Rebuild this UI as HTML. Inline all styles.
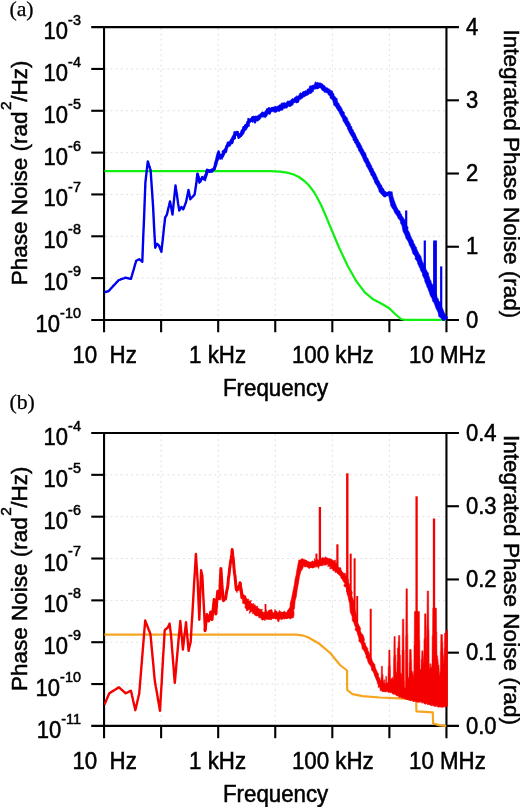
<!DOCTYPE html>
<html lang="en"><head><meta charset="utf-8"><title>Phase noise</title>
<style>html,body{margin:0;padding:0;background:#fff}body{width:520px;height:807px;overflow:hidden}svg{display:block}text{stroke:#000;stroke-width:.5px}</style>
</head><body>
<svg width="520" height="807" viewBox="0 0 520 807" font-family="'Liberation Sans', sans-serif" fill="#000">
<rect width="520" height="807" fill="#fff"/>
<g stroke="#e2e2e2" stroke-width="1" stroke-dasharray="2.2 3" fill="none"><line x1="161.12" y1="28.10" x2="161.12" y2="318.95"/><line x1="218.18" y1="28.10" x2="218.18" y2="318.95"/><line x1="275.25" y1="28.10" x2="275.25" y2="318.95"/><line x1="332.32" y1="28.10" x2="332.32" y2="318.95"/><line x1="389.38" y1="28.10" x2="389.38" y2="318.95"/><line x1="105.05" y1="68.94" x2="445.45" y2="68.94"/><line x1="105.05" y1="110.77" x2="445.45" y2="110.77"/><line x1="105.05" y1="152.61" x2="445.45" y2="152.61"/><line x1="105.05" y1="194.44" x2="445.45" y2="194.44"/><line x1="105.05" y1="236.28" x2="445.45" y2="236.28"/><line x1="105.05" y1="278.11" x2="445.45" y2="278.11"/></g>
<g stroke="#000" stroke-width="2.1" fill="none"><path d="M91.25 27.10 H458.95 M91.25 319.95 H458.95 M104.05 27.10 V332.25 M446.45 27.10 V332.25"/><line x1="91.25" y1="68.94" x2="104.05" y2="68.94"/><line x1="91.25" y1="110.77" x2="104.05" y2="110.77"/><line x1="91.25" y1="152.61" x2="104.05" y2="152.61"/><line x1="91.25" y1="194.44" x2="104.05" y2="194.44"/><line x1="91.25" y1="236.28" x2="104.05" y2="236.28"/><line x1="91.25" y1="278.11" x2="104.05" y2="278.11"/><line x1="161.12" y1="319.95" x2="161.12" y2="332.25"/><line x1="218.18" y1="319.95" x2="218.18" y2="332.25"/><line x1="275.25" y1="319.95" x2="275.25" y2="332.25"/><line x1="332.32" y1="319.95" x2="332.32" y2="332.25"/><line x1="389.38" y1="319.95" x2="389.38" y2="332.25"/><line x1="446.45" y1="100.31" x2="458.95" y2="100.31"/><line x1="446.45" y1="173.52" x2="458.95" y2="173.52"/><line x1="446.45" y1="246.74" x2="458.95" y2="246.74"/></g>
<clipPath id="ca"><rect x="104.0" y="27.1" width="343.9" height="294.0"/></clipPath>
<g clip-path="url(#ca)" fill="none" stroke-linejoin="round">
<path d="M104.4 171.2L270.0 171.2L280.0 171.6L287.0 172.6L293.0 174.2L299.0 177.0L305.0 181.5L308.5 185.0L312.0 189.3L314.3 192.5L317.7 198.5L321.5 206.0L325.0 214.0L330.2 226.5L338.8 247.0L347.5 265.5L356.2 281.0L364.8 292.4L373.5 299.6L382.1 304.0L389.3 308.3L395.1 314.0L400.9 319.0L404.0 319.8L446.0 319.8" stroke="#10f010" stroke-width="2.2"/>
<path d="M104.4 292.2L104.9 292.1L105.4 291.9L105.9 291.8L106.5 291.7L107.0 291.6L107.5 291.4L108.0 291.3L108.5 291.2L109.0 290.6L109.5 290.1L110.0 289.6L110.5 289.0L111.0 288.4L111.5 287.9L112.0 287.3L112.5 286.8L113.0 286.2L113.5 285.7L114.1 285.1L114.6 284.6L115.1 284.1L115.6 283.5L116.1 282.9L116.6 282.4L117.1 281.8L117.6 281.3L118.1 280.8L118.6 280.2L119.1 280.0L119.6 279.8L120.2 279.6L120.7 279.4L121.2 279.2L121.7 279.0L122.3 278.9L122.8 278.7L123.3 278.5L123.8 278.3L124.4 278.1L124.9 277.9L125.4 277.7L125.9 277.8L126.4 277.9L126.9 278.0L127.4 278.1L127.9 278.2L128.4 278.4L128.9 278.5L129.4 278.6L129.9 278.7L130.4 278.8L130.9 278.9L131.4 277.1L132.0 275.3L132.5 273.5L133.0 271.7L133.6 269.9L134.1 268.0L134.6 266.2L135.1 264.4L135.7 262.6L136.2 260.8L136.7 260.5L137.2 260.3L137.7 260.0L138.2 259.7L138.7 259.5L139.2 259.2L139.7 259.6L140.2 260.0L140.8 260.4L141.3 260.9L141.8 261.3L142.3 261.7L142.8 248.5L143.3 235.2L143.9 222.0L144.4 208.8L144.9 195.5L145.4 182.3L146.0 177.1L146.6 171.9L147.2 166.6L147.8 161.4L148.4 163.1L148.9 164.8L149.5 166.6L150.0 168.3L150.6 170.0L151.1 177.4L151.6 184.8L152.1 192.1L152.6 199.5L153.1 206.9L153.6 217.1L154.1 227.4L154.7 237.6L155.2 247.8L155.8 246.5L156.5 245.1L157.1 243.8L157.7 244.3L158.3 244.9L158.9 245.4L159.4 246.7L159.9 248.0L160.4 249.2L160.9 250.5L161.4 251.8L161.9 246.9L162.5 242.1L163.0 237.2L163.5 232.3L164.0 227.4L164.6 222.6L165.1 217.7L165.7 216.7L166.3 215.6L166.9 214.6L167.4 212.4L167.9 210.2L168.4 208.0L169.0 205.8L169.5 203.6L170.0 201.4L170.5 204.0L171.0 206.7L171.5 209.3L172.0 212.0L172.5 214.6L173.0 209.7L173.5 204.9L174.0 200.0L174.5 195.1L175.0 190.3L175.5 185.4L176.0 189.0L176.6 192.6L177.1 196.2L177.6 199.8L178.1 203.4L178.7 207.0L179.2 210.6L179.8 209.7L180.3 208.8L180.8 207.8L181.4 206.9L182.0 207.7L182.6 208.6L183.2 209.4L183.8 208.0L184.3 206.6L184.9 205.1L185.4 203.7L186.0 202.3L186.5 199.8L187.0 197.4L187.5 194.9L188.0 192.5L188.5 190.0L189.1 193.1L189.7 196.1L190.3 199.2L190.8 198.6L191.4 198.0L191.9 197.5L192.4 196.9L193.0 196.3L193.5 195.8L194.1 195.2L194.6 194.6L195.2 190.6L195.8 186.6L196.3 183.3L196.9 178.5L197.5 173.7" stroke="#0000f0" stroke-width="2.4"/>
<path d="M196.9 178.5L197.5 173.7L198.0 176.7L198.6 178.4L199.1 179.8L199.7 182.0L200.2 181.9L200.7 180.6L201.2 179.1L201.8 178.7L202.3 177.1L202.9 177.8L203.4 179.0L203.9 179.4L204.5 179.6L205.0 178.7L205.5 176.2L206.0 174.6L206.5 173.7L207.0 169.8L207.5 171.0L208.1 171.0L208.6 170.2L209.1 170.6L209.6 171.9L210.1 170.4L210.7 171.3L211.2 171.6L211.7 170.1L212.2 171.3L212.8 170.1L213.3 169.5L213.8 169.7L214.6 167.0L214.6 169.0L215.6 163.5L216.5 161.1L217.6 157.3L218.6 151.5L219.6 155.5L220.6 158.5L221.5 154.8L222.4 157.1L223.3 155.2L224.1 151.8L224.9 150.6L225.7 149.8L226.5 146.9L227.3 145.1L228.1 142.7L228.9 145.0L229.7 143.8L230.5 143.4L231.3 140.0L232.1 143.0L232.9 139.0L233.8 136.4L234.6 138.3L235.4 133.4L236.2 132.0L237.0 134.3L237.8 132.1L238.6 137.8L239.4 136.3L240.2 134.4L241.0 135.8L241.9 130.4L242.7 132.3L243.5 127.1L244.4 127.7L245.3 125.3L246.2 127.8L247.0 126.7L247.9 122.0L248.8 122.3L249.7 120.5L250.6 121.3L251.5 119.1L252.4 117.4L253.3 117.0L254.2 120.0L255.0 122.3L255.8 118.8L256.7 117.1L257.5 120.3L258.3 117.3L259.2 116.7L260.0 116.5L260.9 115.6L261.8 114.9L262.6 112.8L263.5 115.4L264.5 113.9L265.5 115.3L266.5 112.4L267.5 109.5L268.6 111.5L269.6 113.5L270.6 110.1L271.5 109.0L272.5 108.2L273.3 108.2L274.1 109.2L275.0 107.7L275.8 111.5L276.6 108.5L277.5 108.7L278.3 110.4L279.2 110.1L280.0 107.2L280.8 107.7L281.7 108.0L282.5 106.4L283.3 103.7L284.2 107.1L285.0 107.1L285.8 106.0L286.7 103.6L287.5 104.4L288.3 103.4L289.2 103.4L290.0 105.4L290.8 105.2L291.7 103.3L292.5 102.6L293.3 102.2L294.2 100.6L295.0 99.9L295.8 98.5L296.7 98.8L297.5 101.8L298.3 99.2L299.2 96.8L300.0 96.1L300.8 95.0L301.7 96.3L302.5 95.7L303.3 92.5L304.2 94.8L305.0 92.7L305.8 94.9L306.7 92.5L307.5 94.1L308.3 90.4L309.2 90.0L310.0 90.2L310.8 90.8L311.7 89.6L312.5 86.6L313.3 88.0L314.2 87.3L315.0 86.2L316.0 85.4L317.0 88.1L318.0 84.8L318.9 84.5L319.7 86.8L320.6 86.5L321.4 86.6L322.3 88.0L323.2 88.3L324.1 88.7L325.0 90.1L325.8 89.9L326.7 89.5L327.6 90.4L328.5 90.9L329.4 93.0L330.2 92.8" stroke="#0000f0" stroke-width="2.4"/>
<path d="M330.2 92.8L331.1 93.2L331.9 96.7L332.8 96.4L333.6 97.1L334.5 100.8L335.3 101.0L336.2 103.5L337.0 104.0L337.9 105.0L338.7 106.5L339.5 108.7L340.4 110.5L341.2 111.6L342.1 113.6L342.9 114.2L343.7 116.9L344.6 117.2L345.4 119.9L346.2 122.1L347.1 123.9L347.9 126.0L348.7 125.3L349.6 128.5L350.4 130.4L351.3 131.8L352.1 132.1L352.9 134.6L353.8 137.2L354.6 136.5L355.4 139.5L356.3 141.5L357.1 141.9L357.9 144.4L358.8 144.9L359.6 146.7L360.5 148.3L361.3 150.7L362.1 152.1L363.0 154.4L363.8 154.7L364.6 157.0L365.5 159.4L366.3 160.8L367.1 161.2L368.0 164.2L368.8 165.1L369.7 167.4L370.5 169.0L371.3 171.3L372.2 172.2L373.0 172.5L373.9 174.6L374.7 177.7L375.6 178.8L376.5 181.4L377.3 182.5L378.2 183.5L379.1 186.5L379.9 186.9L380.8 187.8L381.7 191.9L382.6 190.3L383.6 193.4L384.5 194.8L385.4 195.5L386.3 193.7L387.2 195.1L388.2 192.8L389.1 192.4L390.0 192.5L391.0 197.3L392.0 200.9L393.0 205.2L393.9 205.9L394.9 207.8L395.8 208.7L396.8 210.9L397.7 213.2L398.6 214.1L399.5 216.2L400.5 217.0L401.4 218.5L402.3 220.5L403.1 222.6L403.9 225.3L404.7 227.3L405.6 230.6L406.4 231.4L407.2 233.6L408.0 235.3L408.9 237.9L409.7 240.2L410.6 241.0L411.5 243.4L412.4 245.7L413.2 247.0L414.1 248.6L415.0 251.4L415.8 252.7L416.7 254.8L417.6 257.3L418.4 259.3L419.3 260.3L420.2 262.2L421.0 264.7L421.9 266.5L422.8 267.3L423.7 271.4L424.5 272.6L425.4 275.1L426.3 276.1L427.1 279.8L428.0 280.9L428.8 283.4L429.7 284.8L430.6 287.8L431.4 289.9L432.3 292.2L433.1 294.8L434.0 296.7L434.9 299.2L435.7 300.3L436.6 301.9L437.5 304.4L438.4 306.7L439.2 309.0L440.1 310.7L441.0 311.1L441.8 314.3L442.7 316.9L443.5 316.9L444.4 317.4L445.2 318.8L446.0 319.2" stroke="#0000f0" stroke-width="2.4"/>
<path d="M198.5 173.7L199.1 175.8L200.3 178.3L200.8 182.1L201.9 180.0L202.0 178.1L201.9 176.0L202.1 177.4L201.5 177.9L203.4 179.8L203.9 176.1L205.4 173.4L206.0 170.0L206.5 169.9L207.7 170.3L208.1 169.3L209.8 169.9L210.2 169.5L211.1 169.2L211.6 168.7L212.3 168.6L213.7 167.1L214.4 163.2L215.4 159.8L216.2 156.2L217.3 152.3L218.5 155.3L219.6 157.6L220.5 155.9L221.4 154.5L222.3 153.0L221.9 150.9L223.4 150.2L224.5 148.7L225.4 147.2L225.9 145.3L226.9 144.9L227.3 144.1L227.0 142.3L229.2 141.9L229.7 140.8L231.2 139.3L231.6 137.4L232.6 135.8L233.5 134.0L233.9 131.3L234.7 131.5L236.4 133.9L237.3 134.1L238.2 134.5L239.0 135.3L239.1 133.8L239.8 133.3L240.6 132.5L241.1 131.1L242.5 130.4L242.6 128.8L243.9 127.9L244.5 126.5L245.0 125.0L246.1 123.8L246.5 122.1L247.6 120.4L247.7 118.3L248.8 118.3L249.4 118.8L250.3 118.5L251.9 117.9L252.9 116.5L253.5 116.3L254.0 116.2L254.9 116.6L255.5 115.8L256.6 116.5L257.3 115.9L258.1 115.2L259.1 114.8L259.8 113.9L260.5 113.6L261.0 112.9L261.6 112.5L262.1 112.7L263.1 113.4L263.5 112.2L264.6 112.3L265.1 110.8L266.3 110.3L266.3 108.8L267.7 109.2L268.0 107.8L268.9 107.2L270.3 108.1L271.2 107.8L271.9 107.0L272.9 107.6L273.7 106.8L274.7 107.1L275.4 105.9L276.3 107.1L276.6 106.7L276.9 106.1L278.0 106.3L278.7 105.3L279.5 104.8L280.6 104.8L281.0 103.4L281.6 103.1L282.4 103.2L283.5 103.7L284.0 102.9L284.7 102.4L285.6 103.2L286.2 102.8L287.0 102.6L287.1 101.2L287.7 100.9L288.8 101.1L289.8 100.8L290.6 100.5L291.2 99.5L291.9 99.1L292.3 98.5L292.8 98.6L294.0 99.2L294.4 97.7L295.1 96.9L296.2 97.2L296.3 95.8L297.4 96.2L298.0 95.9L298.9 95.7L299.2 94.4L299.8 93.4L300.2 92.7L301.7 93.3L302.6 92.7L303.4 92.0L303.9 91.5L304.7 91.3L305.2 90.7L305.9 90.6L306.9 90.9L307.1 89.7L307.7 88.8L308.6 88.7L309.3 88.4L309.3 86.3L310.5 85.7L311.6 85.9L311.9 85.4L312.9 85.3L314.1 84.9L314.8 83.2L315.4 81.7L316.7 82.7L317.6 82.3L318.8 83.0L320.1 82.8L321.1 83.2L321.9 83.8L322.9 84.1L323.3 85.2L324.7 85.6L325.2 86.8L325.9 87.3L326.8 87.8L328.0 88.1L328.2 89.1L329.3 88.8L329.8 89.4L330.9 90.5L332.5 91.0L332.8 92.7L333.9 93.8L334.1 95.6L335.0 96.7L336.2 97.7L337.2 98.7L337.3 100.7L337.8 102.5L339.1 103.5L339.4 105.0L340.3 106.0L341.0 107.1L341.8 108.2L342.3 109.7L342.9 111.1L344.3 112.2L344.3 114.1L344.9 115.4L346.1 116.4L347.0 117.5L347.7 118.7L347.9 120.3L348.9 121.5L349.6 122.9L350.4 124.2L350.6 125.7L351.9 126.8L352.0 128.5L353.1 129.8L353.5 131.3L354.5 132.5L355.2 133.8L355.7 135.2L356.4 136.6L357.0 138.2L357.9 139.3L358.4 140.6L359.1 142.0L360.1 143.3L360.8 144.8L361.7 146.2L362.1 147.8L362.9 149.0L363.6 150.1L364.2 151.6L365.3 152.8L366.0 154.3L366.3 156.0L366.9 157.5L368.1 158.6L368.4 160.1L369.3 161.6L370.1 163.0L370.7 164.5L371.7 165.7L371.9 167.3L373.0 168.5L373.4 170.1L374.3 171.5L375.1 172.9L375.8 174.2L376.3 175.5L377.0 176.9L377.7 178.5L378.2 180.1L379.2 181.2L379.7 182.5L380.4 184.0L381.6 185.1L382.0 186.6L382.5 188.1L383.8 188.8L383.9 190.1L384.7 190.7L385.3 191.5L386.1 191.7L386.5 192.5L386.7 192.5L388.0 192.3L389.3 191.9L390.0 192.3L390.9 192.2L392.1 191.6L392.6 194.9L393.3 197.9L394.3 200.7L395.4 203.7L396.1 205.3L396.5 206.7L397.3 208.0L397.9 209.2L398.7 210.4L400.1 211.3L400.2 212.9L401.4 214.0L401.8 215.7L402.7 216.9L403.6 218.2L404.6 219.4L405.3 221.3L405.8 223.4L406.6 225.5L408.1 227.3L407.8 229.7L408.8 231.5L409.7 233.2L410.2 235.1L410.9 236.6L411.6 238.2L412.5 239.7L413.3 241.1L413.6 242.9L414.7 244.3L415.1 246.0L416.4 247.2L416.7 248.9L417.4 250.4L418.1 252.0L418.9 253.5L419.9 255.0L420.9 256.5L421.3 258.3L421.9 260.1L422.5 261.9L423.7 263.4L423.9 265.2L425.1 266.7L425.6 268.4L426.4 270.0L427.3 271.7L428.5 273.2L428.6 275.4L429.4 277.3L429.9 279.3L431.0 280.9L431.3 282.8L432.6 284.5L433.4 286.4L433.6 288.5L434.9 290.1L434.9 292.2L435.9 293.8L436.8 295.6L437.1 297.4L438.3 298.9L438.5 300.5L439.7 301.8L440.4 303.3L441.5 304.8L441.7 306.7L442.4 308.4L443.2 310.0L443.8 311.6L444.4 313.1L445.1 314.6L446.0 315.1L446.5 316.2L447.4 317.1L448.6 317.3L443.7 320.9L442.9 320.4L441.6 319.6L441.3 318.1L440.0 317.6L438.8 316.4L438.5 314.4L438.1 312.6L437.4 310.8L436.3 309.1L435.7 307.4L435.1 305.7L434.5 304.0L433.8 302.6L432.7 301.3L432.3 299.5L431.7 297.7L430.5 296.1L429.9 294.2L429.3 292.3L428.5 290.5L427.9 288.6L426.9 286.7L426.4 284.7L425.5 283.0L424.8 281.3L424.6 279.2L423.6 277.4L422.6 275.6L422.5 273.7L421.6 272.0L420.6 270.5L420.2 268.8L419.4 267.2L418.6 265.6L417.8 263.9L417.4 262.1L416.6 260.4L415.1 259.1L415.3 257.1L414.6 255.5L413.3 254.2L412.5 252.7L412.2 251.0L411.6 249.5L411.0 247.9L410.2 246.4L409.3 244.9L408.9 243.2L408.1 241.6L407.3 240.1L406.2 238.7L405.6 237.0L405.0 235.1L404.1 233.3L403.1 231.5L402.7 229.5L402.3 227.2L401.7 225.1L400.6 223.3L400.4 221.2L399.7 220.0L398.7 219.0L397.8 217.8L397.3 216.3L396.4 215.1L395.7 213.9L394.6 212.8L394.1 211.2L393.5 209.7L392.3 208.5L391.6 207.0L390.8 205.7L390.2 202.7L389.5 199.9L388.9 197.1L388.2 194.3L387.7 194.7L386.9 195.4L386.1 196.2L385.8 196.7L385.7 197.0L384.6 197.1L383.3 196.4L382.2 195.1L381.2 194.0L380.3 192.8L379.0 191.8L378.9 190.3L378.3 188.8L377.6 187.4L376.9 185.8L375.9 184.5L375.1 183.2L374.4 182.0L374.1 180.3L373.1 178.9L372.6 177.3L371.9 176.2L370.8 175.1L370.6 173.4L369.6 172.0L369.0 170.5L368.2 169.1L367.5 167.7L366.6 166.6L366.1 165.1L365.6 163.4L364.5 162.0L363.8 160.7L363.2 159.3L362.7 157.8L362.0 156.4L361.2 154.9L360.4 153.5L359.8 152.1L358.7 151.1L358.4 149.7L357.9 148.2L356.8 146.9L356.3 145.3L355.6 143.8L354.4 142.7L354.3 141.2L353.0 140.2L352.9 138.5L352.1 137.1L351.3 135.9L350.4 134.6L349.7 133.3L349.0 131.9L348.4 130.5L347.5 129.1L347.3 127.4L346.4 126.3L345.6 125.1L344.9 123.7L344.1 122.4L343.1 121.2L342.8 119.7L342.3 118.3L341.6 117.1L340.9 115.9L340.2 114.4L339.4 113.0L338.9 111.6L337.7 110.5L337.1 109.2L336.4 108.2L335.9 106.9L334.6 106.0L333.6 104.9L333.4 103.0L333.0 101.2L332.3 100.0L331.4 98.9L330.0 98.0L330.1 96.4L329.2 95.6L328.2 94.8L327.9 93.3L326.7 92.7L325.8 92.8L325.7 92.1L324.2 92.5L324.2 91.2L323.4 91.0L322.5 90.7L321.7 89.9L321.3 88.3L320.3 88.0L319.7 87.5L319.3 87.2L318.5 89.0L318.7 88.2L318.4 87.4L318.0 87.5L317.2 87.5L316.4 87.8L316.0 88.7L315.7 89.1L315.0 89.3L314.1 89.2L313.5 89.5L313.5 91.5L312.2 92.0L311.7 92.8L311.2 93.5L310.0 93.5L309.0 94.1L308.2 94.6L307.9 95.2L306.9 94.8L306.2 95.4L305.3 95.4L305.1 96.8L304.1 96.7L303.3 97.1L302.8 98.0L302.0 98.3L301.4 99.1L300.6 99.5L299.6 99.2L299.2 99.8L299.0 101.8L297.7 102.0L297.1 102.8L296.4 103.1L295.3 102.6L294.6 102.6L293.8 102.6L293.2 103.5L293.0 105.3L292.0 104.7L291.0 104.5L290.4 105.0L290.3 106.8L288.6 106.0L288.0 106.9L287.2 107.4L286.7 108.4L285.7 107.3L285.2 107.5L285.1 108.7L283.9 107.8L283.6 108.7L282.9 109.7L282.0 110.5L280.6 110.0L280.1 111.1L279.3 111.2L278.2 110.9L277.1 111.0L276.3 111.9L275.2 110.7L274.6 112.3L273.8 112.2L272.9 111.2L272.5 111.8L271.7 111.8L271.0 111.9L270.5 111.9L270.2 112.7L269.8 113.5L268.7 113.9L267.3 114.6L267.0 116.4L266.0 116.5L265.3 117.0L265.4 118.1L263.9 116.7L263.2 117.4L262.0 116.8L261.1 117.4L260.7 118.6L260.1 119.3L259.4 120.0L258.5 120.4L257.5 119.7L256.8 119.9L255.9 120.4L254.6 120.6L253.8 120.7L253.4 121.4L252.9 122.3L252.6 122.7L251.7 121.4L250.7 121.1L250.0 122.5L249.4 124.6L249.5 126.3L248.0 126.8L246.9 127.9L246.7 129.5L245.6 130.6L244.5 131.7L244.0 133.4L243.0 134.8L241.9 135.8L240.9 137.1L239.8 137.9L239.3 137.4L238.2 136.4L237.6 136.5L236.9 135.7L236.5 135.3L235.3 136.1L235.5 138.6L234.3 139.5L233.3 140.8L233.0 142.9L232.0 143.7L230.6 144.6L230.5 146.1L229.2 146.4L228.2 146.9L227.5 148.6L227.1 150.5L226.8 152.3L224.9 153.4L224.0 155.2L223.3 156.3L222.4 157.5L222.3 159.6L221.1 157.0L219.5 153.7L219.5 158.4L217.8 161.5L216.9 165.1L215.6 168.3L214.9 170.0L214.2 170.3L213.2 171.0L212.6 172.3L211.2 171.8L210.5 171.8L209.6 171.7L209.4 172.5L208.1 172.3L207.3 175.6L206.2 178.2L205.3 181.3L205.8 180.6L204.4 179.5L202.7 178.4L200.8 181.3L200.1 182.0L199.4 184.0L198.0 181.8L197.7 178.3L196.4 175.6Z" fill="#0000f0" stroke="#0000f0" stroke-width="0.6"/>
<g stroke="#0000f0" stroke-linecap="butt"><line x1="406.2" y1="210.5" x2="406.2" y2="230.0" stroke-width="2.2"/><line x1="424.8" y1="240.5" x2="424.8" y2="272.0" stroke-width="2.2"/><line x1="434.2" y1="240.5" x2="434.2" y2="296.0" stroke-width="2.2"/><line x1="435.8" y1="240.5" x2="435.8" y2="300.0" stroke-width="2.2"/><line x1="441.2" y1="266.4" x2="441.2" y2="313.0" stroke-width="2.2"/></g>
</g>
<text transform="translate(80.90 39.10) scale(1 1.050)" text-anchor="end" font-size="22">10<tspan dy="-13.4" font-size="14.4">-3</tspan></text><text transform="translate(80.90 80.94) scale(1 1.050)" text-anchor="end" font-size="22">10<tspan dy="-13.4" font-size="14.4">-4</tspan></text><text transform="translate(80.90 122.77) scale(1 1.050)" text-anchor="end" font-size="22">10<tspan dy="-13.4" font-size="14.4">-5</tspan></text><text transform="translate(80.90 164.61) scale(1 1.050)" text-anchor="end" font-size="22">10<tspan dy="-13.4" font-size="14.4">-6</tspan></text><text transform="translate(80.90 206.44) scale(1 1.050)" text-anchor="end" font-size="22">10<tspan dy="-13.4" font-size="14.4">-7</tspan></text><text transform="translate(80.90 248.28) scale(1 1.050)" text-anchor="end" font-size="22">10<tspan dy="-13.4" font-size="14.4">-8</tspan></text><text transform="translate(80.90 290.11) scale(1 1.050)" text-anchor="end" font-size="22">10<tspan dy="-13.4" font-size="14.4">-9</tspan></text><text transform="translate(80.90 331.95) scale(1 1.050)" text-anchor="end" font-size="22">10<tspan dy="-13.4" font-size="14.4">-10</tspan></text>
<text transform="translate(466.00 327.65) scale(1 1.050)" text-anchor="start" font-size="22">0</text><text transform="translate(466.00 254.44) scale(1 1.050)" text-anchor="start" font-size="22">1</text><text transform="translate(466.00 181.22) scale(1 1.050)" text-anchor="start" font-size="22">2</text><text transform="translate(466.00 108.01) scale(1 1.050)" text-anchor="start" font-size="22">3</text><text transform="translate(466.00 34.80) scale(1 1.050)" text-anchor="start" font-size="22">4</text>
<text transform="translate(72.40 363.35) scale(1 1.050)" text-anchor="start" font-size="22.3" xml:space="preserve">10  Hz</text><text transform="translate(217.58 363.35) scale(1 1.050)" text-anchor="middle" font-size="22.3">1 kHz</text><text transform="translate(332.82 363.35) scale(1 1.050)" text-anchor="middle" font-size="22.3">100 kHz</text><text transform="translate(447.45 363.35) scale(1 1.050)" text-anchor="middle" font-size="22.3">10 MHz</text><text transform="translate(275.60 396.35) scale(1 1.050)" text-anchor="middle" font-size="22.3">Frequency</text>
<text transform="translate(26.8 285.2) rotate(-90)" font-size="22.5" id="yl_a">Phase Noise (rad<tspan dy="-16.3" dx="1.4" font-size="15.5">2</tspan><tspan dy="16.3" dx="-0.4">/Hz)</tspan></text>
<text transform="translate(504.4 29.4) rotate(90)" font-size="22.5" id="yr_a">Integrated Phase Noise (rad)</text>
<text x="9.4" y="15.5" font-size="21.8" style="stroke-width:.25px" font-family="'Liberation Serif', serif">(a)</text>
<g stroke="#e2e2e2" stroke-width="1" stroke-dasharray="2.2 3" fill="none"><line x1="161.12" y1="434.00" x2="161.12" y2="724.90"/><line x1="218.18" y1="434.00" x2="218.18" y2="724.90"/><line x1="275.25" y1="434.00" x2="275.25" y2="724.90"/><line x1="332.32" y1="434.00" x2="332.32" y2="724.90"/><line x1="389.38" y1="434.00" x2="389.38" y2="724.90"/><line x1="105.05" y1="474.84" x2="445.45" y2="474.84"/><line x1="105.05" y1="516.69" x2="445.45" y2="516.69"/><line x1="105.05" y1="558.53" x2="445.45" y2="558.53"/><line x1="105.05" y1="600.37" x2="445.45" y2="600.37"/><line x1="105.05" y1="642.21" x2="445.45" y2="642.21"/><line x1="105.05" y1="684.06" x2="445.45" y2="684.06"/></g>
<g stroke="#000" stroke-width="2.1" fill="none"><path d="M91.25 433.00 H458.95 M91.25 725.90 H458.95 M104.05 433.00 V738.20 M446.45 433.00 V738.20"/><line x1="91.25" y1="474.84" x2="104.05" y2="474.84"/><line x1="91.25" y1="516.69" x2="104.05" y2="516.69"/><line x1="91.25" y1="558.53" x2="104.05" y2="558.53"/><line x1="91.25" y1="600.37" x2="104.05" y2="600.37"/><line x1="91.25" y1="642.21" x2="104.05" y2="642.21"/><line x1="91.25" y1="684.06" x2="104.05" y2="684.06"/><line x1="161.12" y1="725.90" x2="161.12" y2="738.20"/><line x1="218.18" y1="725.90" x2="218.18" y2="738.20"/><line x1="275.25" y1="725.90" x2="275.25" y2="738.20"/><line x1="332.32" y1="725.90" x2="332.32" y2="738.20"/><line x1="389.38" y1="725.90" x2="389.38" y2="738.20"/><line x1="446.45" y1="506.23" x2="458.95" y2="506.23"/><line x1="446.45" y1="579.45" x2="458.95" y2="579.45"/><line x1="446.45" y1="652.67" x2="458.95" y2="652.67"/></g>
<clipPath id="cb"><rect x="104.0" y="433.0" width="343.9" height="294.1"/></clipPath>
<g clip-path="url(#cb)" fill="none" stroke-linejoin="round">
<path d="M104.4 634.6L296.0 634.6L302.0 635.3L308.0 637.3L315.0 641.2L320.0 644.3L325.0 648.7L330.0 652.8L340.0 665.0L347.0 670.5L347.2 690.0L352.5 694.2L362.5 696.2L380.0 697.5L405.0 698.7L416.2 699.5L416.4 711.3L432.8 712.3L433.1 723.5L440.0 725.4L446.2 725.8" stroke="#f7a520" stroke-width="2.2"/>
<path d="M104.4 704.7L104.9 703.4L105.5 702.2L106.0 700.9L106.6 699.6L107.1 698.4L107.7 697.1L108.2 695.8L108.8 694.6L109.3 693.3L109.8 693.0L110.3 692.7L110.8 692.4L111.3 692.0L111.8 691.7L112.3 691.4L112.8 691.1L113.3 690.8L113.8 690.5L114.4 690.1L114.9 689.8L115.4 689.5L115.9 689.2L116.4 688.9L116.9 688.6L117.4 688.2L117.9 687.9L118.4 687.6L118.9 687.3L119.4 687.8L119.9 688.2L120.5 688.7L121.0 689.1L121.5 689.6L122.0 690.1L122.6 690.5L123.1 691.0L123.6 691.5L124.1 691.9L124.7 692.4L125.2 692.8L125.7 693.3L126.2 693.0L126.7 692.8L127.3 692.5L127.8 692.3L128.3 692.0L128.8 691.7L129.3 691.5L129.9 691.2L130.4 691.0L130.9 690.7L131.5 693.1L132.0 695.6L132.6 698.0L133.1 700.5L133.7 702.9L134.2 705.3L134.8 707.8L135.3 710.2L135.9 707.9L136.4 705.5L137.0 703.2L137.5 700.8L138.1 698.5L138.6 696.1L139.2 693.8L139.7 687.7L140.2 681.6L140.7 675.5L141.2 669.4L141.7 663.3L142.2 657.1L142.7 651.0L143.2 644.9L143.7 638.8L144.2 632.7L144.7 626.6L145.2 620.5L145.7 621.9L146.2 623.2L146.8 624.5L147.3 625.9L147.8 627.2L148.3 628.6L148.8 630.0L149.4 631.3L149.9 632.6L150.4 634.0L151.0 639.9L151.5 645.7L152.1 651.5L152.6 657.4L153.2 663.2L153.7 669.1L154.2 674.9L154.8 680.8L155.3 683.8L155.8 686.8L156.4 689.8L156.9 692.8L157.4 695.8L157.9 698.7L158.4 701.7L159.0 704.7L159.5 707.7L160.0 710.7L160.5 701.7L161.0 692.8L161.6 683.8L162.1 674.9L162.6 665.9L163.1 657.0L163.7 648.0L164.2 639.1L164.7 630.1L165.2 629.7L165.7 629.2L166.2 628.8L166.8 628.4L167.3 627.9L167.8 627.5L168.4 626.2L169.0 624.9L169.6 623.6L170.2 628.8L170.9 634.0L171.5 641.0L172.0 648.0L172.6 655.0L173.1 661.9L173.7 668.9L174.2 675.9L174.8 682.9L175.4 676.2L176.0 669.6L176.5 662.9L177.1 656.3L177.7 649.6L178.2 643.9L178.7 638.2L179.3 632.4L179.8 626.7L180.3 621.0L180.8 626.7L181.3 632.4L181.9 638.2L182.4 643.9L182.9 649.6L183.4 645.0L183.9 640.5L184.4 636.0L185.0 631.4L185.5 626.8L186.0 622.3L186.5 628.0L187.0 633.7L187.6 639.5L188.1 645.2L188.6 650.9L189.1 648.6L189.6 646.3L190.2 644.1L190.7 641.8L191.2 633.0L191.7 624.1L192.3 615.3L192.8 606.4L193.3 597.6L193.8 588.9L194.3 580.1L194.9 571.4L195.4 562.6L195.9 553.9L196.5 563.3L197.1 572.6L197.7 582.0L198.2 594.6L198.8 607.1L199.3 619.7L199.9 603.2L200.5 586.8L201.1 570.3L201.8 573.5L202.4 576.8L202.9 587.5L203.4 598.1L204.0 608.8L204.5 619.4L205.0 631.1L205.6 625.8" stroke="#f50000" stroke-width="2.4"/>
<path d="M205.0 631.1L205.6 625.8L206.2 619.1L206.8 614.6L207.4 615.5L208.0 618.1L208.6 621.0L209.1 619.6L209.6 617.9L210.2 614.9L210.7 612.1L211.3 616.8L212.0 619.6L212.5 614.8L213.1 609.4L213.6 604.7L214.1 599.4L214.7 604.3L215.3 608.1L215.9 614.0L216.5 605.0L217.1 597.7L217.7 591.3L218.3 592.7L219.0 594.1L219.6 598.8L220.2 583.4L220.9 568.4L221.4 575.8L221.9 584.0L222.5 591.7L223.0 599.4L223.5 600.7L224.0 598.7L224.5 598.1L225.0 597.6L225.5 599.0L226.0 595.7L226.5 592.2L227.0 590.0L227.5 587.9L228.0 583.8L228.5 577.5L229.0 575.1L229.5 569.8L230.1 565.4L230.6 561.5L231.2 558.3L231.7 555.0L232.2 549.6L232.8 555.7L233.4 560.3L233.9 567.1L234.5 573.2L235.0 576.0L235.5 581.5L236.0 587.2L236.5 589.8L237.0 590.0L237.5 589.9L238.0 587.1L238.5 587.2L239.0 586.3L239.5 585.7L240.0 582.7L240.5 587.5L241.0 589.6L241.5 593.1L242.0 595.9L242.0 595.1L243.0 598.2" stroke="#f50000" stroke-width="3.0"/>
<path d="M242.0 595.9L242.0 595.1L243.0 598.2L244.0 598.4L245.0 596.5L245.9 602.7L246.9 600.4L247.8 602.9L248.8 604.1L249.8 603.1L250.8 604.8L251.8 605.8L252.8 607.0L253.8 608.6L254.8 608.8L255.8 607.3L256.8 610.6L257.8 613.7L258.8 614.4L259.7 613.5L260.6 615.2L261.6 616.5L262.5 618.2L263.5 618.8L264.5 614.9L265.5 615.0L266.5 618.4L267.5 618.6L268.4 618.5L269.4 610.9L270.3 615.1L271.2 610.4L272.2 616.9L273.1 615.6L274.1 615.6L275.0 615.2L275.9 618.0L276.9 614.9L277.8 617.5L278.8 616.6L279.7 616.2L280.6 616.4L281.6 615.7L282.5 613.4L283.5 616.7L284.6 616.5L285.6 614.7L286.7 616.2L287.7 616.4L288.8 612.1L289.8 611.9L290.9 609.0L292.0 605.8L293.0 603.1L294.0 596.0L295.0 591.7L296.0 587.1L297.0 581.4L298.0 575.5L299.1 574.0L300.2 564.9L301.2 561.4L302.2 559.6L303.1 562.8L304.1 564.3L305.0 564.9L306.0 562.4L307.0 563.4L308.0 566.2L309.0 564.5L310.0 566.5L311.0 563.2L312.0 566.8L313.0 566.0L314.0 564.9L315.0 562.7L316.0 563.4L317.0 563.6L318.0 563.5L319.0 562.6L320.0 562.2L321.0 562.6L322.0 564.3L323.0 558.7L324.0 559.5L325.0 559.0L326.0 560.4L327.0 558.7L328.0 562.4L329.0 561.7L330.0 561.1L331.2 561.7L332.3 564.4L333.5 565.8L334.5 567.2L335.5 566.6L336.5 569.9L337.5 567.7L338.7 573.0L339.8 568.5L341.0 572.6L342.0 573.1L343.0 577.1L344.0 575.2L345.0 580.9L346.0 579.3L347.0 586.8L348.0 587.6L348.9 591.0L349.9 595.5L350.8 601.6L351.9 605.3L352.9 606.8L353.9 616.2L355.0 620.3L355.9 620.9L356.9 626.5L357.8 627.0L358.8 631.5L359.7 634.3L360.6 636.1L361.6 640.4L362.5 641.3L363.4 644.9L364.4 646.2L365.3 648.9L366.2 653.5L367.2 653.6L368.1 654.4L369.1 657.7L370.0 659.1L371.0 662.5L372.1 665.2L373.1 667.6L374.2 670.1L375.2 671.9L376.2 675.5L377.3 679.0L378.4 680.1L379.4 683.6L380.5 686.6" stroke="#f50000" stroke-width="2.4"/>
<path d="M379.8 685.0L380.0 685.0L380.2 685.0L380.4 685.0L380.6 685.0L380.8 687.3L381.0 677.4L381.2 677.2L381.4 666.2L381.6 666.2L381.8 666.2L382.0 666.2L382.2 666.2L382.4 666.2L382.6 675.1L382.8 674.8L383.0 674.6L383.2 682.7L383.4 682.3L383.6 682.0L383.8 680.0L384.0 679.6L384.2 679.7L384.4 679.7L384.6 679.8L384.8 683.2L385.0 683.2L385.2 683.3L385.4 683.3L385.6 683.4L385.8 676.3L386.0 676.3L386.2 676.4L386.4 676.4L386.6 676.5L386.8 682.7L387.0 682.7L387.2 682.8L387.4 682.8L387.6 682.9L387.8 682.4L388.0 682.4L388.2 666.3L388.4 666.3L388.6 666.4L388.8 650.0L389.0 650.0L389.2 650.0L389.4 650.0L389.6 650.0L389.8 650.0L390.0 650.0L390.2 665.8L390.4 665.8L390.6 681.7L390.8 678.8L391.0 678.9L391.2 679.0L391.4 679.1L391.6 679.2L391.8 678.0L392.0 678.1L392.2 677.7L392.4 677.3L392.6 676.9L392.8 679.4L393.0 679.0L393.2 678.6L393.4 678.2L393.6 657.2L393.8 657.0L394.0 636.5L394.2 636.5L394.4 636.5L394.6 636.5L394.8 636.5L395.0 636.5L395.2 636.5L395.4 656.2L395.6 656.0L395.8 655.0L396.0 673.1L396.2 672.7L396.4 672.3L396.6 671.9L396.8 676.4L397.0 662.0L397.2 661.8L397.4 648.0L397.6 648.0L397.8 648.0L398.0 648.0L398.2 641.7L398.4 641.7L398.6 635.4L398.8 635.4L399.0 635.4L399.2 635.4L399.4 635.4L399.6 635.4L399.8 635.4L400.0 654.8L400.2 655.0L400.4 655.1L400.6 675.2L400.8 672.7L401.0 673.0L401.2 673.5L401.4 674.1L401.6 674.6L401.8 681.0L402.0 650.4L402.2 650.7L402.4 619.2L402.6 619.2L402.8 619.2L403.0 619.2L403.2 619.2L403.4 619.2L403.6 619.2L403.8 619.2L404.0 649.6L404.2 649.9L404.4 681.1L404.6 681.6L404.8 688.5L405.0 688.0L405.2 687.5L405.4 687.0L405.6 637.6L405.8 634.7L406.0 588.8L406.2 588.8L406.4 588.8L406.6 588.8L406.8 588.8L407.0 588.8L407.2 588.8L407.4 588.8L407.6 633.8L407.8 634.0L408.0 678.7L408.2 678.2L408.4 677.6L408.6 677.1L408.8 677.2L409.0 676.7L409.2 662.5L409.4 661.9L409.6 649.5L409.8 649.5L410.0 649.5L410.2 649.5L410.4 649.5L410.6 649.5L410.8 649.5L411.0 649.5L411.2 649.5L411.4 658.8L411.6 659.4L411.8 670.1L412.0 671.3L412.2 672.6L412.4 673.9L412.6 675.2L412.8 671.2L413.0 672.5L413.2 673.8L413.4 675.1L413.6 675.6L413.8 678.7L414.0 645.0L414.2 644.8L414.4 611.5L414.6 611.5L414.8 611.5L415.0 611.5L415.2 611.5L415.4 611.5L415.6 611.5L415.8 611.5L416.0 611.5L416.2 611.5L416.4 611.5L416.6 611.5L416.8 611.5L417.0 611.5L417.2 611.5L417.4 611.5L417.6 611.5L417.8 611.5L418.0 611.5L418.2 611.5L418.4 611.5L418.6 611.5L418.8 611.5L419.0 611.5L419.2 611.5L419.4 611.5L419.6 641.1L419.8 640.7L420.0 669.7L420.2 669.5L420.4 669.2L420.6 669.0L420.8 669.5L421.0 669.3L421.2 659.5L421.4 659.0L421.6 658.5L421.8 650.8L422.0 650.8L422.2 650.8L422.4 650.8L422.6 650.8L422.8 650.8L423.0 650.8L423.2 656.4L423.4 656.5L423.6 662.5L423.8 663.5L424.0 638.7L424.2 638.8L424.4 638.9L424.6 613.8L424.8 613.8L425.0 613.8L425.2 613.8L425.4 613.8L425.6 613.8L425.8 613.8L426.0 613.8L426.2 637.2L426.4 637.3L426.6 661.0L426.8 626.3L427.0 626.4L427.2 591.0L427.4 591.0L427.6 591.0L427.8 591.0L428.0 591.0L428.2 591.0L428.4 591.0L428.6 591.0L428.8 629.7L429.0 629.7L429.2 668.6L429.4 668.7L429.6 668.8L429.8 663.9L430.0 664.1L430.2 663.9L430.4 663.6L430.6 663.4L430.8 667.6L431.0 667.4L431.2 667.2L431.4 666.9L431.6 666.7L431.8 663.9L432.0 663.6L432.2 635.7L432.4 635.6L432.6 635.5L432.8 608.0L433.0 608.0L433.2 608.0L433.4 608.0L433.6 608.0L433.8 608.0L434.0 608.0L434.2 608.0L434.4 608.0L434.6 608.0L434.8 608.0L435.0 608.0L435.2 608.0L435.4 608.0L435.6 608.0L435.8 608.0L436.0 608.0L436.2 608.0L436.4 608.0L436.6 633.3L436.8 632.2L437.0 656.3L437.2 656.0L437.4 655.8L437.6 655.6L437.8 659.9L438.0 659.6L438.2 662.1L438.4 664.6L438.6 667.1L438.8 665.0L439.0 667.5L439.2 670.0L439.4 672.5L439.6 675.0L439.8 676.4L440.0 673.8L440.2 671.1L440.4 651.5L440.6 650.2L440.8 634.6L441.0 634.6L441.2 634.6L441.4 634.6L441.6 634.6L441.8 634.6L442.0 634.6L442.2 634.6L442.4 634.6L442.6 641.2L442.8 642.6L443.0 652.3L443.2 653.9L443.4 655.5L443.6 657.1L443.8 662.6L444.0 664.2L444.2 648.0L444.4 647.4L444.6 633.0L444.8 633.0L445.0 633.0L445.2 633.0L445.4 633.0L445.6 633.0L445.8 633.0L446.0 633.0L446.2 634.3L446.4 634.0L446.6 630.0L446.8 630.0L447.0 630.0L447.2 630.0L447.4 630.0L447.6 630.0L447.8 634.0L447.8 705.6L447.6 706.4L447.4 706.2L447.2 706.1L447.0 705.6L446.8 705.7L446.6 706.3L446.4 707.1L446.2 706.3L446.0 706.6L445.8 706.9L445.6 706.6L445.4 706.9L445.2 707.2L445.0 706.9L444.8 707.0L444.6 705.8L444.4 707.0L444.2 706.8L444.0 707.2L443.8 707.3L443.6 706.9L443.4 707.2L443.2 706.6L443.0 707.2L442.8 706.0L442.6 707.0L442.4 707.5L442.2 706.4L442.0 707.1L441.8 706.9L441.6 707.3L441.4 706.4L441.2 707.4L441.0 706.7L440.8 706.4L440.6 706.2L440.4 707.3L440.2 706.4L440.0 707.1L439.8 707.2L439.6 707.0L439.4 706.7L439.2 706.9L439.0 706.7L438.8 706.7L438.6 707.5L438.4 707.1L438.2 707.1L438.0 707.2L437.8 706.1L437.6 706.7L437.4 706.7L437.2 706.8L437.0 706.5L436.8 706.7L436.6 705.9L436.4 705.7L436.2 705.6L436.0 705.5L435.8 706.7L435.6 706.5L435.4 706.6L435.2 706.3L435.0 706.2L434.8 706.0L434.6 705.4L434.4 706.6L434.2 705.6L434.0 706.4L433.8 705.4L433.6 705.2L433.4 705.6L433.2 705.5L433.0 705.7L432.8 704.7L432.6 704.7L432.4 705.7L432.2 705.7L432.0 706.1L431.8 705.5L431.6 704.9L431.4 705.7L431.2 705.8L431.0 705.8L430.8 704.3L430.6 705.4L430.4 704.3L430.2 705.2L430.0 704.9L429.8 705.0L429.6 704.1L429.4 704.2L429.2 704.9L429.0 704.2L428.8 704.6L428.6 704.2L428.4 704.9L428.2 704.0L428.0 704.1L427.8 704.5L427.6 703.9L427.4 704.6L427.2 704.0L427.0 704.1L426.8 703.5L426.6 703.2L426.4 703.4L426.2 703.4L426.0 704.1L425.8 704.2L425.6 704.4L425.4 704.3L425.2 703.7L425.0 704.2L424.8 704.1L424.6 703.2L424.4 704.0L424.2 703.0L424.0 703.0L423.8 703.0L423.6 703.1L423.4 702.7L423.2 702.5L423.0 702.4L422.8 702.8L422.6 702.2L422.4 703.2L422.2 703.0L422.0 703.3L421.8 702.6L421.6 702.7L421.4 702.1L421.2 701.8L421.0 702.1L420.8 702.1L420.6 701.8L420.4 702.1L420.2 702.6L420.0 701.3L419.8 702.0L419.6 701.6L419.4 702.2L419.2 702.2L419.0 701.8L418.8 702.5L418.6 701.1L418.4 702.1L418.2 701.2L418.0 702.5L417.8 701.2L417.6 702.1L417.4 701.6L417.2 702.4L417.0 701.0L416.8 701.1L416.6 701.0L416.4 702.2L416.2 701.8L416.0 701.5L415.8 701.4L415.6 701.9L415.4 700.8L415.2 701.4L415.0 701.2L414.8 700.8L414.6 701.4L414.4 700.9L414.2 701.1L414.0 701.8L413.8 701.4L413.6 701.7L413.4 700.5L413.2 701.8L413.0 700.2L412.8 701.3L412.6 700.5L412.4 700.8L412.2 700.5L412.0 700.5L411.8 700.5L411.6 700.3L411.4 700.3L411.2 699.8L411.0 701.2L410.8 701.1L410.6 700.4L410.4 699.9L410.2 700.5L410.0 700.2L409.8 700.5L409.6 700.5L409.4 700.2L409.2 699.8L409.0 700.1L408.8 700.5L408.6 699.4L408.4 699.3L408.2 700.1L408.0 699.6L407.8 699.6L407.6 700.0L407.4 699.3L407.2 700.0L407.0 698.8L406.8 698.8L406.6 698.5L406.4 699.7L406.2 698.4L406.0 699.1L405.8 699.6L405.6 699.2L405.4 698.6L405.2 698.0L405.0 698.2L404.8 698.0L404.6 699.2L404.4 697.7L404.2 698.3L404.0 698.9L403.8 698.7L403.6 698.6L403.4 697.6L403.2 697.8L403.0 697.5L402.8 698.2L402.6 698.1L402.4 697.8L402.2 697.3L402.0 698.5L401.8 697.4L401.6 697.4L401.4 698.1L401.2 697.9L401.0 697.1L400.8 697.1L400.6 696.7L400.4 697.1L400.2 696.5L400.0 697.7L399.8 696.7L399.6 697.5L399.4 697.4L399.2 696.4L399.0 697.2L398.8 696.4L398.6 696.1L398.4 695.8L398.2 696.2L398.0 696.2L397.8 695.3L397.6 695.3L397.4 696.2L397.2 696.2L397.0 695.5L396.8 694.9L396.6 695.8L396.4 696.0L396.2 695.4L396.0 695.2L395.8 694.3L395.6 694.9L395.4 694.5L395.2 694.8L395.0 694.3L394.8 694.4L394.6 694.0L394.4 693.8L394.2 694.1L394.0 693.9L393.8 694.5L393.6 693.1L393.4 693.4L393.2 694.4L393.0 693.0L392.8 693.8L392.6 692.9L392.4 693.6L392.2 693.0L392.0 693.3L391.8 692.6L391.6 692.1L391.4 692.3L391.2 692.8L391.0 692.9L390.8 691.8L390.6 691.7L390.4 692.7L390.2 692.6L390.0 692.8L389.8 692.2L389.6 691.9L389.4 692.6L389.2 692.3L389.0 691.7L388.8 692.7L388.6 692.7L388.4 692.6L388.2 691.9L388.0 691.7L387.8 691.9L387.6 691.9L387.4 691.9L387.2 691.5L387.0 691.2L386.8 691.4L386.6 691.7L386.4 691.3L386.2 691.8L386.0 691.8L385.8 692.4L385.6 691.2L385.4 690.8L385.2 692.0L385.0 691.9L384.8 691.3L384.6 691.0L384.4 691.8L384.2 690.9L384.0 692.1L383.8 691.8L383.6 691.2L383.4 690.6L383.2 692.0L383.0 691.5L382.8 691.7L382.6 691.6L382.4 690.8L382.2 690.9L382.0 691.6L381.8 690.6L381.6 690.7L381.4 690.8L381.2 690.8L381.0 690.3L380.8 690.3L380.6 691.2L380.4 690.5L380.2 689.6L380.0 689.5L379.8 688.0Z" fill="#f50000" stroke="#f50000" stroke-width="0.5"/>
<path d="M236.1 590.2L238.1 588.5L239.3 586.5L240.0 584.7L241.1 582.7L242.0 588.4L243.1 594.3L244.5 595.3L244.9 596.9L246.2 598.0L246.7 599.2L248.9 599.2L248.4 601.2L251.4 600.6L250.2 603.2L251.8 603.5L252.0 604.0L252.8 603.9L253.9 603.4L253.2 605.4L254.2 604.8L255.3 604.7L255.2 606.5L256.0 607.0L257.7 606.0L257.6 608.0L258.5 608.3L259.2 609.0L260.4 608.9L260.6 610.1L262.4 609.0L261.6 611.5L262.6 611.4L263.1 612.0L263.5 613.0L264.4 611.8L264.8 612.2L265.1 612.6L265.6 612.6L266.1 609.7L266.8 611.9L267.5 611.7L268.2 611.4L269.0 611.8L269.8 611.1L270.5 610.6L271.2 611.8L272.0 612.0L272.8 612.7L273.5 612.8L274.2 612.6L275.0 609.2L275.8 610.7L276.5 611.1L277.2 611.8L278.0 612.8L278.8 611.7L279.4 610.3L280.2 612.8L280.8 611.2L281.5 612.3L282.3 612.6L283.0 612.2L283.6 611.5L284.3 610.9L284.5 611.7L284.7 611.8L285.6 612.7L285.3 611.9L286.4 612.8L287.2 611.5L287.8 609.9L289.2 608.6L290.0 606.9L290.2 603.1L291.3 599.5L292.1 595.8L292.8 592.1L293.7 587.7L294.5 583.4L295.1 579.0L296.2 574.6L296.7 571.0L297.4 567.3L298.1 563.6L298.9 559.9L300.0 560.1L300.6 559.7L302.1 559.6L304.1 559.6L306.3 560.3L307.0 560.5L307.5 561.2L308.0 561.5L308.6 561.5L309.2 561.8L309.7 562.1L310.3 562.0L310.8 562.2L311.4 561.6L311.9 562.0L312.3 561.0L312.8 560.8L313.7 561.7L314.3 561.1L314.4 558.6L315.7 561.0L316.5 560.9L316.7 558.9L317.6 559.4L318.6 560.2L319.2 559.4L319.8 558.5L320.8 559.6L321.4 558.3L322.1 557.5L323.1 558.2L323.9 558.1L324.7 558.3L325.3 556.7L326.2 557.4L327.3 558.7L328.5 558.6L329.6 558.4L330.5 558.9L331.4 559.1L332.4 559.8L333.1 561.0L335.6 560.0L335.3 562.3L336.4 563.0L337.4 563.6L336.9 565.6L337.7 566.6L338.3 567.7L339.2 568.4L340.9 568.2L340.4 570.0L341.1 570.8L341.8 571.4L342.6 572.1L343.4 573.3L345.7 573.4L345.3 575.4L346.9 576.0L347.1 577.5L348.3 579.6L348.3 582.1L349.4 584.2L349.9 586.5L350.5 589.5L352.3 592.3L351.8 595.6L352.8 598.6L354.6 602.6L354.3 607.0L355.2 611.2L356.5 615.2L357.1 619.5L357.5 621.8L358.2 624.0L359.4 626.1L360.5 628.2L360.4 630.7L361.2 632.9L362.9 634.8L363.8 637.0L364.4 639.3L364.1 641.9L365.4 643.4L365.7 645.3L366.7 647.0L367.8 648.5L367.9 650.5L368.9 652.2L369.5 654.0L369.9 655.9L370.8 657.6L371.9 659.2L372.4 661.2L373.6 662.9L374.9 664.6L375.1 666.7L375.7 668.6L376.6 670.5L377.4 672.4L378.6 674.1L378.4 676.4L379.6 678.1L380.2 680.1L381.5 681.8L381.5 684.0L382.2 685.9L378.0 687.4L378.4 685.1L377.4 683.3L377.0 681.3L376.2 679.4L375.5 677.5L374.5 675.7L374.0 673.7L373.2 671.8L371.6 670.3L371.4 668.2L370.8 666.3L369.4 664.6L368.4 662.9L367.7 661.0L367.3 659.1L366.0 657.6L366.1 655.5L365.5 653.6L364.7 651.9L363.6 650.3L362.2 648.8L361.9 646.8L361.7 644.9L360.8 643.1L358.8 641.3L359.0 638.7L358.3 636.4L357.5 634.2L357.1 631.8L355.1 629.9L355.6 627.2L354.5 625.1L353.9 622.7L352.3 620.7L352.1 616.3L350.3 612.3L349.9 608.0L349.7 603.6L348.5 599.5L348.1 596.5L346.9 593.6L347.0 590.4L346.3 587.5L343.7 586.0L344.8 583.4L343.3 581.6L342.5 579.7L341.7 578.9L340.9 578.0L340.7 576.8L340.1 575.8L339.2 575.1L338.6 574.3L337.7 573.8L337.1 573.0L336.5 572.2L335.0 572.4L335.0 570.7L333.1 570.8L332.6 569.6L331.9 568.6L329.7 568.9L330.8 566.6L329.2 567.1L329.5 565.4L327.7 566.7L328.3 564.5L328.0 564.3L327.5 564.7L327.3 564.1L326.9 564.2L326.6 564.6L326.0 565.4L325.3 564.7L324.8 565.6L323.9 564.3L323.4 565.1L322.9 565.9L322.1 565.2L321.5 565.7L320.6 565.1L320.1 565.9L319.4 566.0L318.9 567.0L318.6 568.6L317.1 566.2L316.6 567.1L315.6 566.5L315.1 567.6L314.2 567.0L313.4 568.0L312.5 568.1L311.5 567.5L310.6 567.5L309.7 568.4L308.7 568.4L308.0 567.0L307.0 567.1L306.3 566.2L305.1 566.6L304.6 565.8L303.7 565.8L304.5 566.9L306.2 567.0L304.5 563.5L304.3 562.9L304.0 562.3L303.6 565.7L302.6 568.9L300.4 571.9L299.7 575.4L299.0 579.7L298.3 584.1L297.4 588.4L296.8 592.9L296.3 596.7L295.2 600.4L294.8 604.3L294.6 608.3L293.7 610.1L294.0 612.5L294.0 615.1L293.4 617.8L291.3 618.0L290.6 619.1L288.2 618.0L287.0 618.9L285.3 618.5L284.5 619.3L283.6 618.2L282.8 619.6L281.9 618.4L281.2 620.0L280.4 618.6L279.6 619.1L278.8 621.8L278.0 621.8L277.2 619.5L276.5 618.3L275.8 619.1L275.0 618.7L274.2 618.3L273.5 619.1L272.8 618.5L272.0 618.6L271.2 620.0L270.5 619.6L269.8 619.8L269.0 618.9L268.2 618.9L267.5 618.4L266.8 618.7L266.1 618.3L264.9 620.8L264.2 618.4L262.7 620.3L261.8 619.7L261.1 618.8L260.6 617.4L258.9 618.0L258.6 616.3L257.5 615.9L256.1 615.9L255.2 615.6L254.8 614.8L254.0 614.4L253.9 613.1L252.4 614.0L252.6 612.2L252.0 611.6L250.7 612.3L249.2 613.5L249.9 610.3L249.2 609.5L246.7 611.0L246.4 609.8L246.1 608.7L244.9 607.6L245.3 605.2L244.6 603.8L242.6 603.3L242.6 601.1L242.7 599.3L240.9 598.6L240.6 597.4L240.9 595.8L239.8 590.5L238.9 584.9L238.3 586.7L237.6 588.7L236.7 590.6L237.1 592.8Z" fill="#f50000" stroke="#f50000" stroke-width="0.6"/>
<g stroke="#f50000" stroke-linecap="butt"><line x1="265.5" y1="604.0" x2="265.5" y2="616.0" stroke-width="1.8"/><line x1="316.4" y1="553.6" x2="316.4" y2="566.0" stroke-width="2.0"/><line x1="319.9" y1="507.0" x2="319.9" y2="566.0" stroke-width="2.3"/><line x1="337.4" y1="544.3" x2="337.4" y2="572.0" stroke-width="2.2"/><line x1="347.3" y1="473.3" x2="347.3" y2="592.0" stroke-width="2.4"/><line x1="350.7" y1="553.6" x2="350.7" y2="603.0" stroke-width="2.0"/><line x1="354.6" y1="558.3" x2="354.6" y2="622.0" stroke-width="2.0"/><line x1="357.2" y1="596.0" x2="357.2" y2="630.0" stroke-width="1.9"/><line x1="370.7" y1="608.8" x2="370.7" y2="664.0" stroke-width="2.0"/><line x1="416.6" y1="496.3" x2="416.6" y2="640.0" stroke-width="2.3"/><line x1="434.0" y1="518.5" x2="434.0" y2="640.0" stroke-width="2.3"/></g>
</g>
<text transform="translate(80.90 445.00) scale(1 1.050)" text-anchor="end" font-size="22">10<tspan dy="-13.4" font-size="14.4">-4</tspan></text><text transform="translate(80.90 486.84) scale(1 1.050)" text-anchor="end" font-size="22">10<tspan dy="-13.4" font-size="14.4">-5</tspan></text><text transform="translate(80.90 528.69) scale(1 1.050)" text-anchor="end" font-size="22">10<tspan dy="-13.4" font-size="14.4">-6</tspan></text><text transform="translate(80.90 570.53) scale(1 1.050)" text-anchor="end" font-size="22">10<tspan dy="-13.4" font-size="14.4">-7</tspan></text><text transform="translate(80.90 612.37) scale(1 1.050)" text-anchor="end" font-size="22">10<tspan dy="-13.4" font-size="14.4">-8</tspan></text><text transform="translate(80.90 654.21) scale(1 1.050)" text-anchor="end" font-size="22">10<tspan dy="-13.4" font-size="14.4">-9</tspan></text><text transform="translate(80.90 696.06) scale(1 1.050)" text-anchor="end" font-size="22">10<tspan dy="-13.4" font-size="14.4">-10</tspan></text><text transform="translate(80.90 737.90) scale(1 1.050)" text-anchor="end" font-size="22">10<tspan dy="-13.4" font-size="14.4">-11</tspan></text>
<text transform="translate(466.00 733.60) scale(1 1.050)" text-anchor="start" font-size="22">0.0</text><text transform="translate(466.00 660.38) scale(1 1.050)" text-anchor="start" font-size="22">0.1</text><text transform="translate(466.00 587.15) scale(1 1.050)" text-anchor="start" font-size="22">0.2</text><text transform="translate(466.00 513.93) scale(1 1.050)" text-anchor="start" font-size="22">0.3</text><text transform="translate(466.00 440.70) scale(1 1.050)" text-anchor="start" font-size="22">0.4</text>
<text transform="translate(72.40 768.50) scale(1 1.050)" text-anchor="start" font-size="22.3" xml:space="preserve">10  Hz</text><text transform="translate(217.58 768.50) scale(1 1.050)" text-anchor="middle" font-size="22.3">1 kHz</text><text transform="translate(332.82 768.50) scale(1 1.050)" text-anchor="middle" font-size="22.3">100 kHz</text><text transform="translate(447.45 768.50) scale(1 1.050)" text-anchor="middle" font-size="22.3">10 MHz</text><text transform="translate(275.60 801.50) scale(1 1.050)" text-anchor="middle" font-size="22.3">Frequency</text>
<text transform="translate(26.8 691.1) rotate(-90)" font-size="22.5" id="yl_b">Phase Noise (rad<tspan dy="-16.3" dx="1.4" font-size="15.5">2</tspan><tspan dy="16.3" dx="-0.4">/Hz)</tspan></text>
<text transform="translate(504.4 434.9) rotate(90)" font-size="22.6" id="yr_b">Integrated Phase Noise (rad)</text>
<text x="9.4" y="409.3" font-size="21.8" style="stroke-width:.25px" font-family="'Liberation Serif', serif">(b)</text>
</svg>
</body></html>
